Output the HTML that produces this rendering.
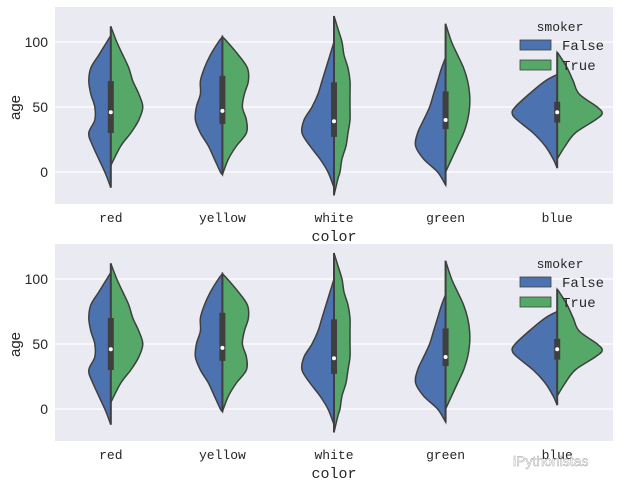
<!DOCTYPE html>
<html><head><meta charset="utf-8"><style>
body{margin:0;background:#fff;}
svg text{font-family:"Liberation Sans","Noto Sans CJK SC",sans-serif;}
svg text.mono{font-family:"Liberation Mono",monospace;}
</style></head><body>
<svg id="c" width="620" height="486" viewBox="0 0 620 486" xmlns="http://www.w3.org/2000/svg"></svg>
<script>
const categories=["red","yellow","white","green","blue"];
const yTicks=[0,50,100];
const falseAges=[
[-12,0,20,30,40,50,60,70,80,90,100,105],
[-2,0,10,20,30,40,50,60,70,80,90,100,104],
[-12,0,10,20,30,40,50,60,70,80,90,100],
[-10,0,10,20,30,40,50,60,70,80,88],
[3,10,20,30,40,45,50,60,70,75]];
const falseDens=[
[0,6,18,22,16,16,20,22,20,12,4,0],
[0,2,8,14,22,27,26,22,22,18,12,4,0],
[0,6,14,24,32,30,22,16,12,8,4,0],
[0,8,22,30,28,22,16,12,8,4,0],
[0,4,12,24,40,45,42,28,12,0]];
const trueAges=[
[5,20,30,40,50,60,70,80,90,100,112],
[-2,10,20,30,40,50,60,70,80,90,100,104],
[-18,-5,0,10,20,30,40,50,60,70,80,90,100,110,120],
[0,10,20,30,40,50,60,70,80,90,100,114],
[10,20,30,40,45,50,60,70,80,90,92]];
const trueDens=[
[0,10,20,28,32,28,22,18,12,6,0],
[0,6,14,24,24,20,22,26,25,16,5,0],
[0,4,6,8,12,14,16,16,16,16,14,10,8,4,0],
[0,6,12,18,22,24,24,22,18,12,6,0],
[0,8,18,38,45,40,22,16,10,2,0]];
const q1=[30,37,27,33,38], q3=[70,74,69,62,54], med=[46,47,39,40,46];
const svg=document.getElementById('c');
const NS='http://www.w3.org/2000/svg';
function mk(t,a,p){const e=document.createElementNS(NS,t);for(const k in a)e.setAttribute(k,a[k]);(p||svg).appendChild(e);return e;}
function smooth(pts){let d='M'+pts[0][0]+','+pts[0][1];for(let i=0;i<pts.length-1;i++){const p0=pts[Math.max(0,i-1)],p1=pts[i],p2=pts[i+1],p3=pts[Math.min(pts.length-1,i+2)];
d+=' C'+(p1[0]+(p2[0]-p0[0])/6)+','+(p1[1]+(p2[1]-p0[1])/6)+' '+(p2[0]-(p3[0]-p1[0])/6)+','+(p2[1]-(p3[1]-p1[1])/6)+' '+p2[0]+','+p2[1];}return d;}
function panel(off,legendTrueY,idx){
  const L=55,R=613,T=7+off,B=204+off;
  const y=v=>172+off-v*1.3;
  const x=i=>L+(R-L)*(i+0.5)/categories.length;
  const g=mk('g',{});
  const bg=mk('rect',{x:L,y:T,width:R-L,height:B-T,fill:'#EAEAF2'},g);
  
  yTicks.forEach(v=>{const l=mk('line',{x1:L,x2:R,y1:y(v),y2:y(v),stroke:'#fff','stroke-width':1.2},g);
    
    const t=mk('text',{x:L-7,y:y(v)+5,'text-anchor':'end','font-size':14,fill:'#262626'},g);t.textContent=v;
    });
  categories.forEach((c,i)=>{const cx=x(i);
    const fp=falseAges[i].map((a,j)=>[cx-falseDens[i][j],y(a)]);
    const vf=mk('path',{d:smooth(fp)+' L'+cx+','+y(falseAges[i][falseAges[i].length-1])+' L'+cx+','+y(falseAges[i][0])+'Z',fill:'#4C72B0',stroke:'#3f3f3f','stroke-width':1.5},g);
    
    const tp=trueAges[i].map((a,j)=>[cx+trueDens[i][j],y(a)]);
    const vt=mk('path',{d:smooth(tp)+' L'+cx+','+y(trueAges[i][trueAges[i].length-1])+' L'+cx+','+y(trueAges[i][0])+'Z',fill:'#55A868',stroke:'#3f3f3f','stroke-width':1.5},g);
    
    const lo=Math.min(falseAges[i][0],trueAges[i][0]),hi=Math.max(falseAges[i][falseAges[i].length-1],trueAges[i][trueAges[i].length-1]);
    const wl=mk('line',{x1:cx,x2:cx,y1:y(lo),y2:y(hi),stroke:'#3f3f3f','stroke-width':2},g);
    
    const bx=mk('rect',{x:cx-3,y:y(q3[i]),width:6,height:y(q1[i])-y(q3[i]),fill:'#3f3f3f'},g);
    
    const md=mk('circle',{cx:cx,cy:y(med[i]),r:2,fill:'#fff'},g);
    
    const t=mk('text',{x:cx,y:B+18,'text-anchor':'middle','font-size':13,fill:'#262626','class':'mono'},g);t.textContent=c;
    });
  const xl=mk('text',{x:(L+R)/2,y:B+37,'text-anchor':'middle','font-size':15,fill:'#262626','class':'mono'},g);xl.textContent='color';
  
  const yl=mk('text',{x:0,y:0,transform:'translate(20,'+((T+B)/2+2)+') rotate(-90)','text-anchor':'middle','font-size':15,fill:'#262626'},g);yl.textContent='age';
  
  const lt=mk('text',{x:560,y:off+31,'text-anchor':'middle','font-size':13,fill:'#262626','class':'mono'},g);lt.textContent='smoker';
  
  [['False','#4C72B0',off+40],['True','#55A868',off+legendTrueY]].forEach(e=>{
    const r=mk('rect',{x:520,y:e[2],width:31,height:10,fill:e[1],stroke:'#3f3f3f','stroke-width':0.8},g);
    
    const t=mk('text',{x:562,y:e[2]+10,'font-size':14,fill:'#262626','class':'mono'},g);t.textContent=e[0];
    });
}
panel(0,60,1);
panel(237,60,2);
const wm=mk('text',{x:513,y:466,'font-size':14,fill:'#fff',stroke:'#999','stroke-width':0.4},svg);wm.textContent='iPythonistas';

</script>
</body></html>
